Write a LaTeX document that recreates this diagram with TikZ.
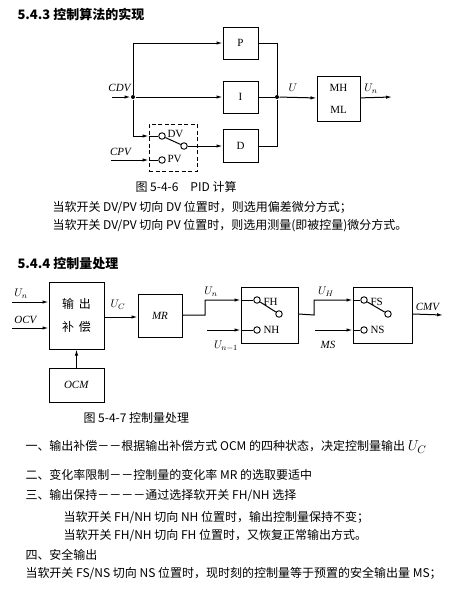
\documentclass[tikz,border=0pt]{standalone}
\usepackage{fontspec}
\setmainfont{Liberation Serif}
\newfontfamily\cjk{Noto Sans CJK SC}
\usetikzlibrary{arrows.meta}

\begin{document}
\begin{tikzpicture} [x=1pt, y=-1pt, line width=1pt,
                     >={Latex[length=6pt,width=3.4pt]},
                     blk/.style= {draw, inner sep=0, font=\fontsize{11}{13}\selectfont},
                     pin/.style= {shape=circle, draw, line width=0.9pt, minimum size=6.5pt, inner sep=0},
                     lbl/.style= {inner sep=0, font=\fontsize{11}{13}\selectfont},
                     dot/.style= {shape=circle, fill, minimum size=4pt, inner sep=0},
                     txt/.style= {inner sep=0, anchor=west, font=\cjk\fontsize{12}{14}\selectfont},
                     head/.style={inner sep=0, anchor=west, font=\cjk\bfseries\fontsize{13}{15}\selectfont}]

\useasboundingbox (0,0) rectangle (474,590);

% 5.4.3 PID
\node[head] (t1) at (17,14) {5.4.3 控制算法的实现};

\node[blk, minimum width=35pt, minimum height=32pt] (P) at (240.5,43) {P};
\node[blk, minimum width=35pt, minimum height=32pt] (I) at (240.5,97) {I};
\node[blk, minimum width=35pt, minimum height=33pt] (D) at (240.5,146) {D};
\node[blk, minimum width=43pt, minimum height=45pt, align=center] (M) at (338.5,98.5) {MH\\[9pt]ML};
\node[draw, line width=0.9pt, dash pattern=on 4pt off 2.5pt, minimum width=48pt, minimum height=47pt] (sw) at (173,147.5) {};

\node[pin] (dv) at (162,136) {};
\node[pin] (pv) at (162,160) {};
\node[pin] (piv) at (184,146) {};
\node[lbl, anchor=west] (dvl) at (167,134) {DV};
\node[lbl, anchor=west] (pvl) at (167,159) {PV};

\coordinate (cdv) at (112,97);
\coordinate (cpv) at (111,160);
\node[dot] (sp) at (133,97) {};
\node[dot] (sum) at (277,97) {};
\coordinate (un) at (392,97);

\draw[->] (cdv) -- (sp);
\draw[->] (sp) |- (P);
\draw[->] (sp) -- (I);
\draw[->] (sp) |- (sw.west |- dv);
\draw (sw.west |- dv) -- (dv);
\draw[->] (cpv) -- (sw.west |- pv);
\draw (sw.west |- pv) -- (pv);
\draw (dv) -- (piv);
\draw[->] (piv) -- (D);
\draw (P) -| (sum);
\draw (D) -| (sum);
\draw (I) -- (sum);
\draw[->] (sum) -- (M);
\draw[->] (M) -- (un);

\node[lbl] (cdvl) at (120,88) {\textit{CDV}};
\node[lbl] (cpvl) at (121,152) {\textit{CPV}};
\node[lbl] (ul) at (293,88) {$U$};
\node[lbl] (unl) at (371,89) {$U_n$};

\node[txt] (cap1) at (135,187) {图 5-4-6\quad PID 计算};
\node[txt] (s1) at (52,207) {当软开关 DV/PV 切向 DV 位置时，则选用偏差微分方式；};
\node[txt] (s2) at (52,226) {当软开关 DV/PV 切向 PV 位置时，则选用测量(即被控量)微分方式。};

% 5.4.4 output processing
\node[head] (t2) at (17,264) {5.4.4 控制量处理};

\node[blk, minimum width=55pt, minimum height=67pt, align=center, font=\cjk\fontsize{12}{14}\selectfont] (comp) at (76.5,315.5) {输\hspace{5pt}出\\[9pt]补\hspace{5pt}偿};
\node[blk, minimum width=55pt, minimum height=34pt] (OCM) at (76.5,385) {\textit{OCM}};
\node[blk, minimum width=44pt, minimum height=43pt] (MR) at (160,315.5) {\textit{MR}};
\node[blk, minimum width=57pt, minimum height=56pt] (FH) at (269.5,315) {};
\node[blk, minimum width=59pt, minimum height=56pt] (FS) at (382.5,315) {};

\node[pin] (fh) at (257,300) {};
\node[pin] (nh) at (257,330) {};
\node[pin] (fhp) at (279,314) {};
\node[lbl, anchor=west] (fhl) at (263,302) {FH};
\node[lbl, anchor=west] (nhl) at (263,330) {NH};
\node[pin] (fs) at (364,300) {};
\node[pin] (ns) at (364,330) {};
\node[pin] (fsp) at (388,314) {};
\node[lbl, anchor=west] (fsl) at (370,302) {FS};
\node[lbl, anchor=west] (nsl) at (370,330) {NS};

\coordinate (uin) at (12,302);
\coordinate (ocv) at (12,328);
\coordinate (k1) at (205,315);
\coordinate (k2) at (314,315);
\coordinate (un1) at (207,330);
\coordinate (ms) at (315,330);
\coordinate (cmv) at (443,315);

\draw[->] (uin) -- (comp.west |- uin);
\draw[->] (ocv) -- (comp.west |- ocv);
\draw[->] (OCM) -- (comp);
\draw[->] (comp.east |- 0,317) -- (MR.west |- 0,317);
\draw[->] (MR) -- (k1) |- (FH.west |- fh);
\draw (FH.west |- fh) -- (fh);
\draw[->] (un1) -- (FH.west |- nh);
\draw (FH.west |- nh) -- (nh);
\draw (fh) -- (fhp);
\draw[->] (FH.east |- fhp) -- (k2) |- (FS.west |- fs);
\draw (FS.west |- fs) -- (fs);
\draw[->] (ms) -- (FS.west |- ns);
\draw (FS.west |- ns) -- (ns);
\draw (fs) -- (fsp);
\draw[->] (FS.east |- fsp) -- (cmv);

\node[lbl] (unl2) at (21,294) {$U_n$};
\node[lbl] (ocvl) at (26,320) {\textit{OCV}};
\node[lbl] (ucl) at (118,305) {$U_C$};
\node[lbl] (unl3) at (211,292) {$U_n$};
\node[lbl] (un1l) at (226,346) {$U_{n-1}$};
\node[lbl] (uhl) at (326,292) {$U_H$};
\node[lbl] (msl) at (328,345) {\textit{MS}};
\node[lbl] (cmvl) at (428,307) {\textit{CMV}};

\node[txt] (cap2) at (83,418) {图 5-4-7 控制量处理};
\node[txt] (r1) at (25,447) {一、输出补偿－－根据输出补偿方式 OCM 的四种状态，决定控制量输出 {\fontsize{15}{15}\selectfont$U_C$}};
\node[txt] (r2) at (25,475) {二、变化率限制－－控制量的变化率 MR 的选取要适中};
\node[txt] (r3) at (25,496) {三、输出保持－－－－通过选择软开关 FH/NH 选择};
\node[txt] (r4) at (63,517) {当软开关 FH/NH 切向 NH 位置时，输出控制量保持不变；};
\node[txt] (r5) at (63,535) {当软开关 FH/NH 切向 FH 位置时，又恢复正常输出方式。};
\node[txt] (r6) at (25,555) {四、安全输出};
\node[txt] (r7) at (25,573) {当软开关 FS/NS 切向 NS 位置时，现时刻的控制量等于预置的安全输出量 MS；};
\end{tikzpicture}
\end{document}
